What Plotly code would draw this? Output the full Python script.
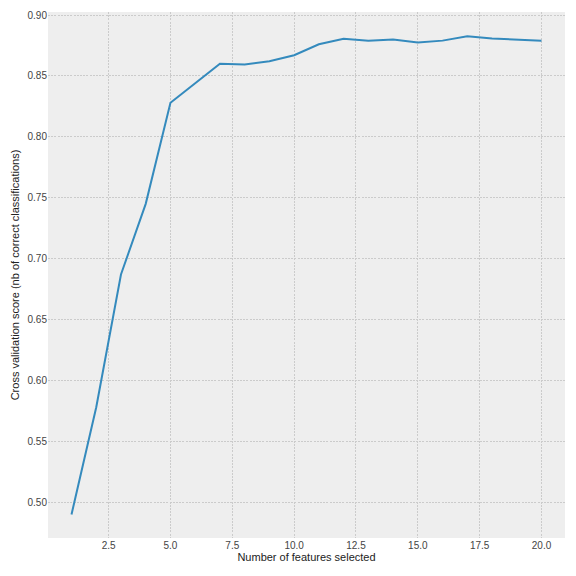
import plotly.graph_objects as go

# number of features vs cross-validation score
n_features = list(range(1, 21))
cv_scores = [0.490, 0.578, 0.687, 0.745, 0.828, 0.844, 0.860, 0.8595, 0.862, 0.867,
             0.876, 0.8805, 0.8788, 0.880, 0.8775, 0.879, 0.8825, 0.8807, 0.8797, 0.879]

x_ticks = [2.5, 5.0, 7.5, 10.0, 12.5, 15.0, 17.5, 20.0]
y_ticks = [0.50, 0.55, 0.60, 0.65, 0.70, 0.75, 0.80, 0.85, 0.90]

font = "Liberation Sans, Arial"

fig = go.Figure()
fig.add_trace(go.Scatter(x=n_features, y=cv_scores, mode="lines",
                         line=dict(color="#348ABD", width=2)))

grid = dict(showgrid=True, gridcolor="#cbcbcb", griddash="2px,1.2px", gridwidth=0.8,
            zeroline=False, showline=False, ticks="", automargin=False,
            tickfont=dict(family=font, size=10, color="#444444"))

fig.update_xaxes(range=[0.05, 20.95], tickvals=x_ticks,
                 ticktext=[f"{v:.1f}" for v in x_ticks],
                 title=dict(text="Number of features selected", standoff=3,
                            font=dict(family=font, size=11, color="#222222")),
                 **grid)
fig.update_yaxes(range=[0.4707, 0.9025], tickvals=y_ticks,
                 ticktext=[f"{v:.2f}" for v in y_ticks],
                 title=dict(text="Cross validation score (nb of correct classifications)", standoff=5,
                            font=dict(family=font, size=11, color="#222222")),
                 **grid)

# page body adds an 8px offset, so the figure is a bit smaller than the window
fig.update_layout(width=568, height=568, showlegend=False,
                  plot_bgcolor="#eeeeee", paper_bgcolor="white",
                  margin=dict(l=40, r=11, t=4, b=38))

fig.write_html("out.html")
